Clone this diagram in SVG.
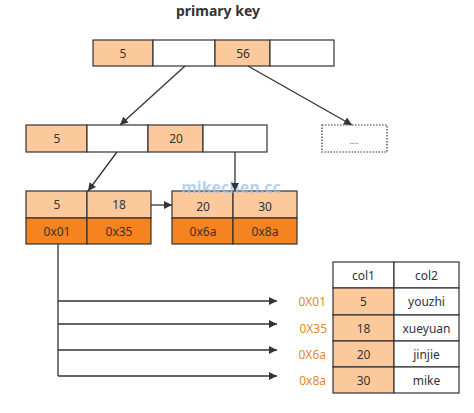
<svg xmlns="http://www.w3.org/2000/svg" width="474" height="413" viewBox="0 0 474 413">
<defs>
<marker id="ah" viewBox="0 0 10 10" refX="10" refY="5" markerWidth="10" markerHeight="8" markerUnits="userSpaceOnUse" orient="auto"><path d="M0,0 L10,5 L0,10 z" fill="#333"/></marker>
<style>
.pe{fill:#fcc99c;stroke:#333;stroke-width:1.2}
.wh{fill:#fff;stroke:#333;stroke-width:1.2}
.or{fill:#f5831f;stroke:#333;stroke-width:1.2}
.t{font-family:"Noto Sans","DejaVu Sans",sans-serif;font-size:12px;fill:#333;text-anchor:middle;dominant-baseline:central}
.lb{font-family:"Noto Sans","DejaVu Sans",sans-serif;font-size:12px;fill:#e0892f;text-anchor:end;dominant-baseline:central}
.c{stroke:#333;stroke-width:1.3;fill:none}
</style>
</defs>
<rect width="474" height="413" fill="#fff"/>
<text x="218" y="10" font-family="'Noto Sans','DejaVu Sans',sans-serif" font-size="14" font-weight="bold" fill="#333" text-anchor="middle" dominant-baseline="central">primary key</text>
<g id="root">
<rect class="pe" x="93" y="40" width="60" height="26"/>
<rect class="wh" x="153" y="40" width="62" height="26"/>
<rect class="pe" x="215" y="40" width="55" height="26"/>
<rect class="wh" x="270" y="40" width="64" height="26"/>
<text class="t" x="123" y="53">5</text>
<text class="t" x="243" y="53">56</text>
</g>
<g id="inner">
<rect class="pe" x="26" y="125" width="61" height="27"/>
<rect class="wh" x="87" y="125" width="61" height="27"/>
<rect class="pe" x="148" y="125" width="55" height="27"/>
<rect class="wh" x="203" y="125" width="64" height="27"/>
<text class="t" x="57" y="138.5">5</text>
<text class="t" x="176" y="138.5">20</text>
</g>
<g id="other">
<rect x="322" y="125" width="65" height="27" fill="#fff" stroke="#333" stroke-width="1.2" stroke-dasharray="1.5,1.5"/>
<text x="354" y="140" font-family="'Noto Sans','DejaVu Sans',sans-serif" font-size="8" fill="#555" text-anchor="middle" dominant-baseline="central">....</text>
</g>
<g id="leaf1">
<rect class="pe" x="26" y="191" width="61" height="27"/>
<rect class="pe" x="87" y="191" width="64" height="27"/>
<rect class="or" x="26" y="218" width="61" height="26"/>
<rect class="or" x="87" y="218" width="64" height="26"/>
<text class="t" x="57" y="204.5">5</text>
<text class="t" x="119" y="204.5">18</text>
<text class="t" x="57" y="231">0x01</text>
<text class="t" x="119" y="231">0x35</text>
</g>
<g id="leaf2">
<rect class="pe" x="172" y="191" width="61" height="27"/>
<rect class="pe" x="233" y="191" width="64" height="27"/>
<rect class="or" x="172" y="218" width="61" height="26"/>
<rect class="or" x="233" y="218" width="64" height="26"/>
<text class="t" x="203" y="206">20</text>
<text class="t" x="265" y="206">30</text>
<text class="t" x="203" y="231">0x6a</text>
<text class="t" x="265" y="231">0x8a</text>
</g>
<text x="231" y="193" font-family="'Noto Sans','DejaVu Sans',sans-serif" font-size="16" font-weight="bold" fill="#9cc3ea" fill-opacity="0.75" text-anchor="middle">mikechen.cc</text>
<g id="table">
<rect class="wh" x="333" y="262" width="61" height="26"/>
<rect class="wh" x="394" y="262" width="65" height="26"/>
<rect class="pe" x="333" y="288" width="61" height="27"/>
<rect class="wh" x="394" y="288" width="65" height="27"/>
<rect class="pe" x="333" y="315" width="61" height="26"/>
<rect class="wh" x="394" y="315" width="65" height="26"/>
<rect class="pe" x="333" y="341" width="61" height="26"/>
<rect class="wh" x="394" y="341" width="65" height="26"/>
<rect class="pe" x="333" y="367" width="61" height="26"/>
<rect class="wh" x="394" y="367" width="65" height="26"/>
<text class="t" x="363.5" y="275">col1</text>
<text class="t" x="426.5" y="275">col2</text>
<text class="t" x="363.5" y="301.5">5</text>
<text class="t" x="426.5" y="301.5">youzhi</text>
<text class="t" x="363.5" y="328">18</text>
<text class="t" x="426.5" y="328">xueyuan</text>
<text class="t" x="363.5" y="354">20</text>
<text class="t" x="426.5" y="354">jinjie</text>
<text class="t" x="363.5" y="380">30</text>
<text class="t" x="426.5" y="380">mike</text>
<text class="lb" x="326" y="301.5">0X01</text>
<text class="lb" x="327" y="328">0X35</text>
<text class="lb" x="326" y="354">0X6a</text>
<text class="lb" x="326" y="380">0x8a</text>
</g>
<g id="connectors">
<line class="c" x1="185" y1="66" x2="120" y2="125" marker-end="url(#ah)"/>
<line class="c" x1="248" y1="66" x2="352" y2="125" marker-end="url(#ah)"/>
<line class="c" x1="117" y1="152" x2="88" y2="191" marker-end="url(#ah)"/>
<line class="c" x1="235" y1="152" x2="235" y2="191" marker-end="url(#ah)"/>
<line class="c" x1="151" y1="205" x2="172" y2="205" marker-end="url(#ah)"/>
<polyline class="c" points="58,244 58,376"/>
<line class="c" x1="58" y1="301" x2="277" y2="301" marker-end="url(#ah)"/>
<line class="c" x1="58" y1="324" x2="277" y2="324" marker-end="url(#ah)"/>
<line class="c" x1="58" y1="350" x2="277" y2="350" marker-end="url(#ah)"/>
<line class="c" x1="58" y1="376" x2="277" y2="376" marker-end="url(#ah)"/>
</g>
</svg>
